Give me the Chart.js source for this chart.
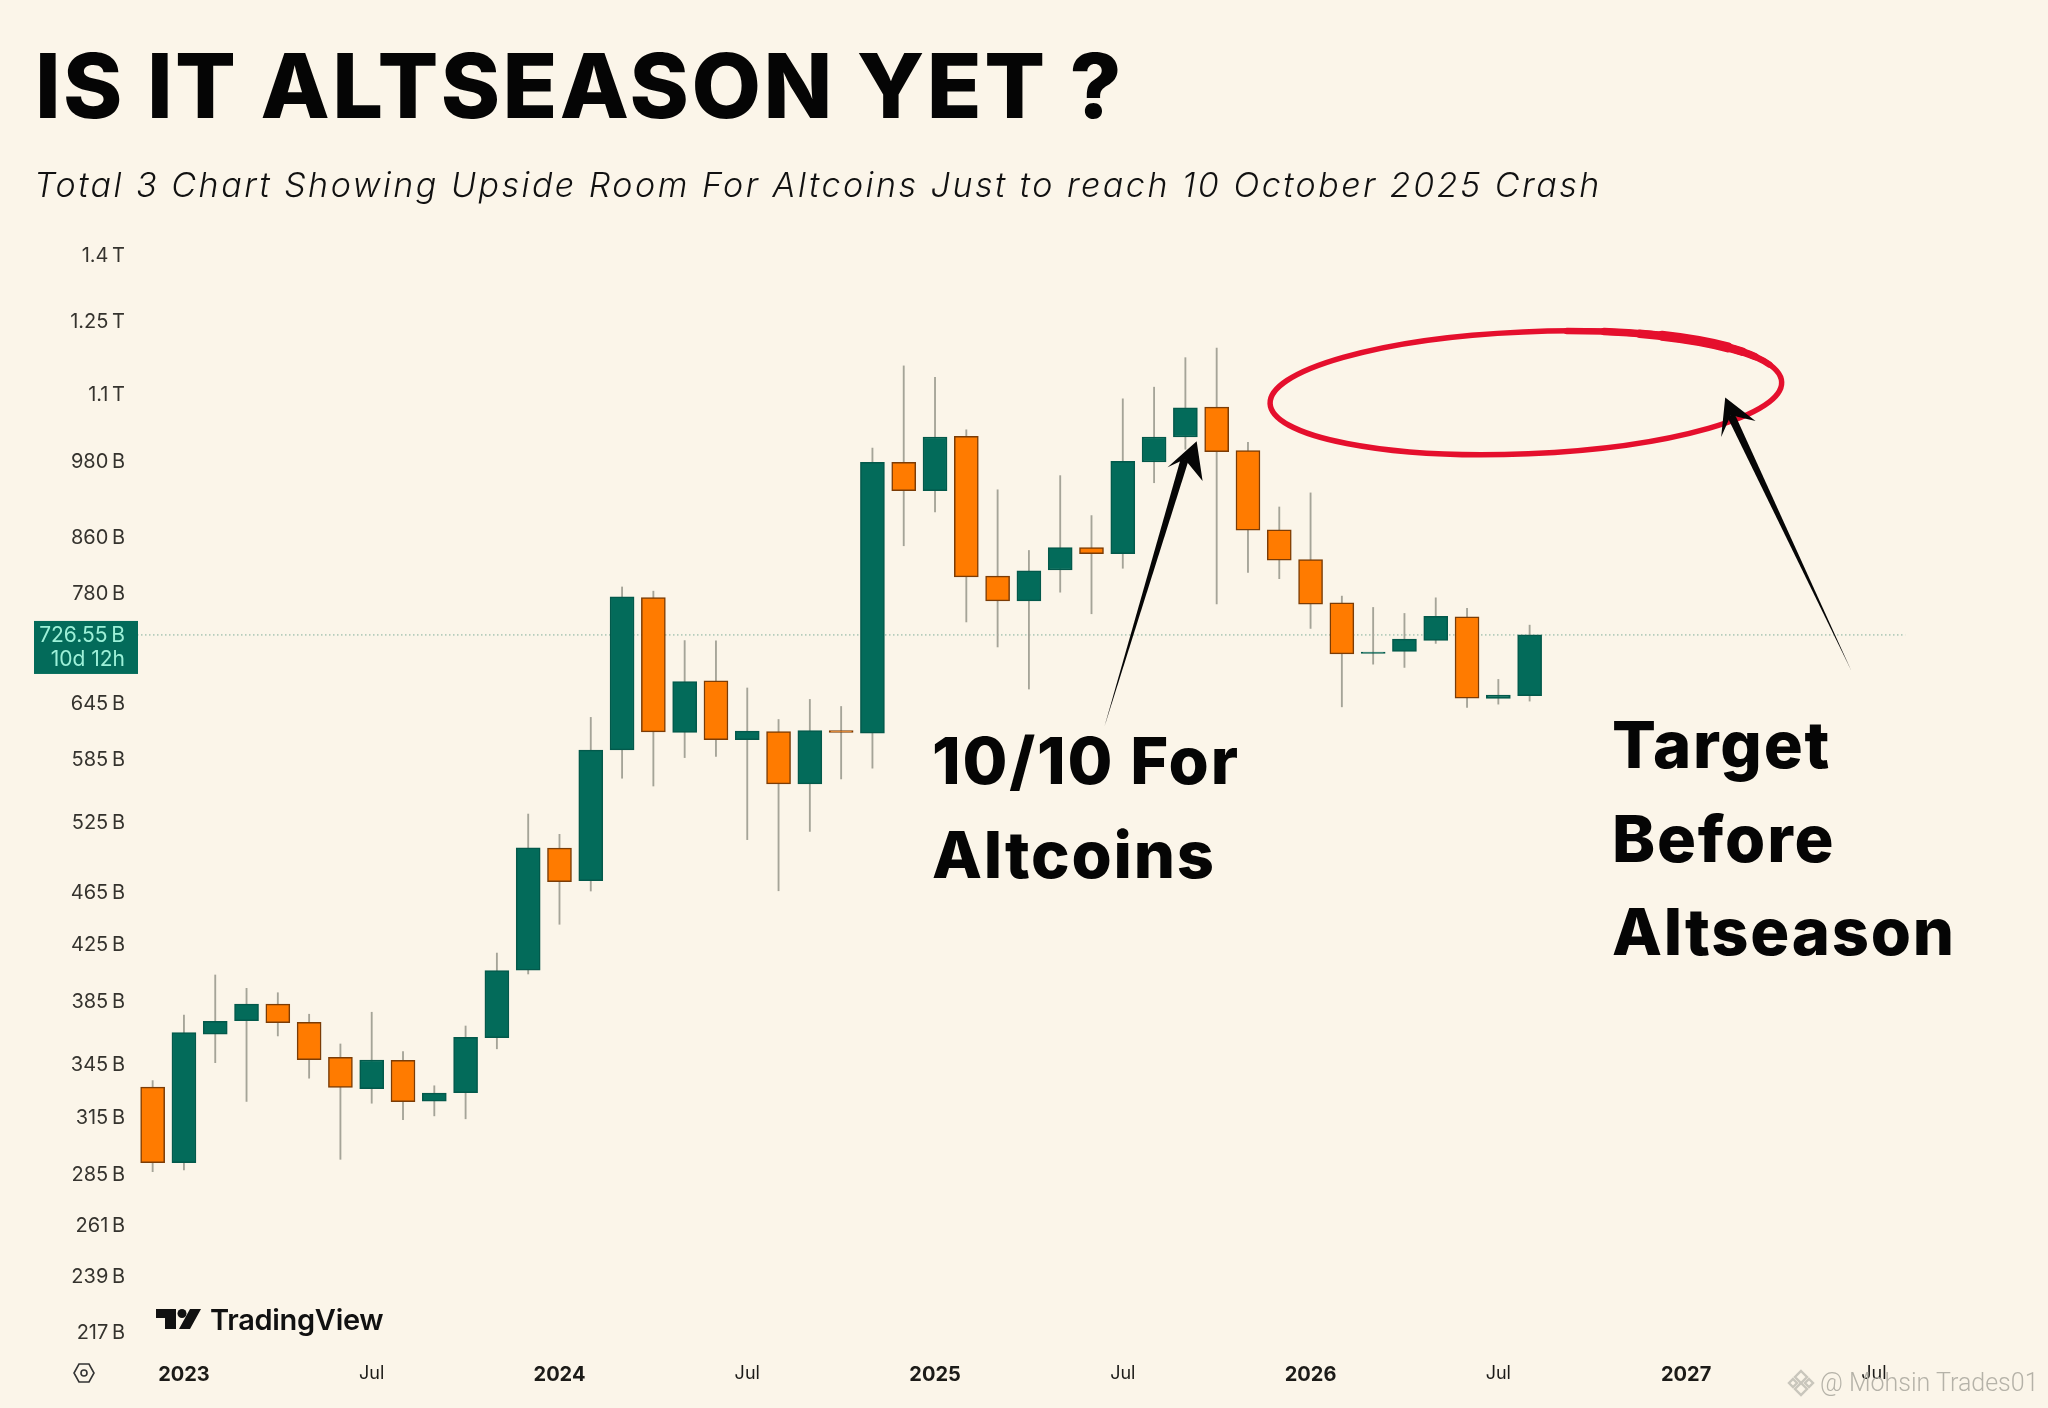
<!DOCTYPE html>
<html>
<head>
<meta charset="utf-8">
<title>Is it altseason yet</title>
<script src="https://cdn.jsdelivr.net/npm/chart.js@4/dist/chart.umd.min.js"></script>
<style>
  html, body { margin: 0; background: #fbf5e9; }
  #page { position: relative; width: 2048px; height: 1408px; overflow: hidden; background: #fbf5e9; }
  canvas { position: absolute; left: 0; top: 0; }
  .txt { position: absolute; white-space: nowrap; color: #050505; font-family: Inter, sans-serif; line-height: 1; margin: 0; }
  #title { left: 35px; top: 41px; font-size: 90px; font-weight: 800; letter-spacing: 2.4px; }
  #subtitle { left: 34px; top: 168px; font-size: 34px; font-weight: 300; font-style: italic; color: #111; letter-spacing: 2.5px; }
  .note { font-size: 65px; font-weight: 800; letter-spacing: 1.8px; }
  #tvName { left: 210px; top: 1305px; font-size: 29px; font-weight: 600; color: #111; letter-spacing: -0.3px; }
  #mark { left: 1820px; top: 1370px; font-size: 25px; font-family: Roboto, sans-serif; font-weight: 300; color: #b5b2a8; }
  svg { position: absolute; }
</style>
</head>
<body>
<div id="page">
  <canvas id="altChart" width="2048" height="1408"></canvas>
  <h1 class="txt" id="title">IS IT ALTSEASON YET ?</h1>
  <p class="txt" id="subtitle">Total 3 Chart Showing Upside Room For Altcoins Just to reach 10 October 2025 Crash</p>
  <div class="txt note" style="left:932px;top:728px">10/10 For</div>
  <div class="txt note" style="left:932px;top:822px">Altcoins</div>
  <div class="txt note" style="left:1612px;top:712px">Target</div>
  <div class="txt note" style="left:1612px;top:806px">Before</div>
  <div class="txt note" style="left:1612px;top:899px">Altseason</div>
  <div class="txt" id="tvName">TradingView</div>
  <svg style="left:156px;top:1308px" width="46" height="22" viewBox="0 0 46 22">
    <path d="M0 1H20V21H9V10H0Z M34 1H45L34 21H23Z" fill="#111"/><circle cx="26" cy="5.5" r="4.5" fill="#111"/>
  </svg>
  <svg style="left:73px;top:1362px" width="22" height="22" viewBox="0 0 22 22">
    <path d="M6 2H16L21 11L16 20H6L1 11Z" fill="none" stroke="#333" stroke-width="1.6"/><circle cx="11" cy="11" r="3" fill="none" stroke="#333" stroke-width="1.6"/>
  </svg>
  <svg style="left:1787px;top:1369px" width="28" height="28" viewBox="0 0 28 28">
    <g fill="none" stroke="#c9c6bc" stroke-width="2.4">
      <path d="M14 2L20 8L14 14L8 8Z"/><path d="M14 14L20 20L14 26L8 20Z"/><path d="M6 10L10 14L6 18L2 14Z"/><path d="M22 10L26 14L22 18L18 14Z"/>
    </g>
  </svg>
  <div class="txt" id="mark">@ Mohsin Trades01</div>
</div>

<script>
const months = [
  'Dec 2022',
  'Jan 2023', 'Feb 2023', 'Mar 2023', 'Apr 2023', 'May 2023', 'Jun 2023', 'Jul 2023', 'Aug 2023', 'Sep 2023', 'Oct 2023', 'Nov 2023', 'Dec 2023',
  'Jan 2024', 'Feb 2024', 'Mar 2024', 'Apr 2024', 'May 2024', 'Jun 2024', 'Jul 2024', 'Aug 2024', 'Sep 2024', 'Oct 2024', 'Nov 2024', 'Dec 2024',
  'Jan 2025', 'Feb 2025', 'Mar 2025', 'Apr 2025', 'May 2025', 'Jun 2025', 'Jul 2025', 'Aug 2025', 'Sep 2025', 'Oct 2025', 'Nov 2025', 'Dec 2025',
  'Jan 2026', 'Feb 2026', 'Mar 2026', 'Apr 2026', 'May 2026', 'Jun 2026', 'Jul 2026', 'Aug 2026', 'Sep 2026', 'Oct 2026', 'Nov 2026', 'Dec 2026',
  'Jan 2027', 'Feb 2027', 'Mar 2027', 'Apr 2027', 'May 2027', 'Jun 2027', 'Jul 2027', 'Aug 2027', 'Sep 2027', 'Oct 2027', 'Nov 2027', 'Dec 2027',
]

// monthly candles, in billions
const openPrices = [
  332.0, 291.3, 363.9, 372.5, 383.4, 371.5, 349.6, 331.2, 347.8, 324.1, 328.8, 361.7, 406.6, 502.3, 474.7,
  595.5, 775.0, 613.7, 671.1, 606.0, 614.7, 561.4, 615.7, 612.8, 979.8, 932.9, 1025.0, 804.4, 770.8, 813.0,
  845.2, 836.4, 980.3, 1023.6, 1077.9, 999.8, 871.5, 828.0, 768.1, 703.7, 706.1, 719.7, 749.8, 650.9, 653.9,
]
const closePrices = [
  291.3, 364.9, 372.1, 383.4, 371.2, 348.2, 331.8, 348.0, 323.7, 328.6, 362.0, 406.3, 502.6, 473.9, 595.2,
  776.0, 614.2, 670.2, 606.0, 615.1, 561.4, 615.7, 613.7, 979.8, 932.9, 1023.6, 803.4, 770.8, 812.0, 845.2,
  836.4, 981.6, 1023.6, 1076.9, 997.9, 871.2, 827.1, 766.4, 703.2, 705.3, 721.3, 750.3, 651.3, 654.6, 726.55,
]
const highPrices = [
  335.8, 376.2, 403.2, 394.0, 391.0, 376.7, 357.8, 378.0, 353.1, 332.8, 369.1, 418.8, 532.8, 514.4, 629.9,
  789.5, 783.8, 719.5, 719.2, 662.8, 627.6, 649.8, 641.9, 1004.1, 1157.8, 1135.2, 1036.5, 934.2, 841.0, 957.4,
  893.4, 1093.6, 1115.9, 1174.4, 1194.0, 1014.4, 906.8, 929.2, 777.1, 762.0, 754.1, 774.8, 760.7, 672.7, 739.0,
]
const lowPrices = [
  286.8, 287.7, 346.4, 323.9, 362.8, 337.2, 293.0, 322.9, 313.8, 315.9, 314.3, 354.8, 403.9, 440.2, 466.3,
  566.9, 559.3, 587.5, 588.7, 509.7, 466.5, 517.0, 566.2, 576.8, 847.9, 899.0, 743.1, 711.6, 661.6, 782.4,
  753.7, 815.5, 945.7, 1002.2, 766.5, 809.5, 800.9, 734.8, 641.5, 690.7, 686.8, 716.0, 640.8, 644.5, 647.9,
]
const lastPrice = 726.55

const yTickValues = [1400, 1250, 1100, 980, 860, 780, 645, 585, 525, 465, 425, 385, 345, 315, 285, 261, 239, 217]
const xTickLabels = {
  'Jan 2023': '2023', 'Jul 2023': 'Jul', 'Jan 2024': '2024', 'Jul 2024': 'Jul', 'Jan 2025': '2025',
  'Jul 2025': 'Jul', 'Jan 2026': '2026', 'Jul 2026': 'Jul', 'Jan 2027': '2027', 'Jul 2027': 'Jul',
}

const GREEN = '#036b5a'
const GREEN_EDGE = '#03594b'
const ORANGE = '#ff7b00'
const ORANGE_EDGE = '#7b3c06'
const WICK = '#a5a498'

function formatPrice(v) {
  return v >= 1000 ? (v / 1000) + '\u2009T' : v + '\u2009B'
}

const isUp = openPrices.map((o, i) => closePrices[i] >= o)

// hand drawn marks on top of the chart, placed by month index and price
const ringCentre = { i: 43.88, v: 1105 }
const leftArrow = { tail: [30.41, 619.4], tip: [33.36, 1016.2], barbA: [32.43, 971.5], barbB: [33.55, 948.7], notch: [32.98, 985.0] }
const rightArrow = { tail: [54.28, 682.8], tip: [50.25, 1096.1], barbA: [51.22, 1052.6], barbB: [50.12, 1023.8], notch: [50.43, 1063.1] }

function drawArrow(ctx, x, y, arrow) {
  const pt = (p) => [x.getPixelForValue(p[0]), y.getPixelForValue(p[1])]
  const tail = pt(arrow.tail)
  const tip = pt(arrow.tip)
  const barbA = pt(arrow.barbA)
  const barbB = pt(arrow.barbB)
  const notch = pt(arrow.notch)
  const dx = notch[0] - tail[0]
  const dy = notch[1] - tail[1]
  const len = Math.hypot(dx, dy)
  const nx = (-dy / len) * 4
  const ny = (dx / len) * 4
  ctx.fillStyle = '#060606'
  ctx.beginPath()
  ctx.moveTo(tail[0], tail[1])
  ctx.lineTo(notch[0] + nx, notch[1] + ny)
  ctx.lineTo(notch[0] - nx, notch[1] - ny)
  ctx.closePath()
  ctx.fill()
  ctx.beginPath()
  ctx.moveTo(tip[0], tip[1])
  ctx.lineTo(barbA[0], barbA[1])
  ctx.lineTo(notch[0], notch[1])
  ctx.lineTo(barbB[0], barbB[1])
  ctx.closePath()
  ctx.fill()
}

const priceLinePlugin = {
  id: 'priceLine',
  beforeDatasetsDraw(chart) {
    const { ctx, scales } = chart
    const py = scales.y.getPixelForValue(lastPrice)
    ctx.save()
    ctx.strokeStyle = '#7fae99'
    ctx.lineWidth = 1
    ctx.setLineDash([1.5, 2.5])
    ctx.beginPath()
    ctx.moveTo(chart.chartArea.left, py)
    ctx.lineTo(scales.x.getPixelForValue(56), py)
    ctx.stroke()
    ctx.restore()
  },
  afterDraw(chart) {
    const { ctx, scales } = chart
    const py = scales.y.getPixelForValue(lastPrice)
    ctx.save()
    ctx.fillStyle = GREEN
    ctx.fillRect(34, py - 14, 104, 53)
    ctx.fillStyle = '#9df0d8'
    ctx.font = '21px Inter, sans-serif'
    ctx.textAlign = 'right'
    ctx.textBaseline = 'middle'
    ctx.fillText('726.55\u2009B', 125, py + 1)
    ctx.fillText('10d 12h', 125, py + 25)
    ctx.restore()
  },
}

const sketchPlugin = {
  id: 'sketch',
  afterDatasetsDraw(chart) {
    const { ctx, scales } = chart
    const cx = scales.x.getPixelForValue(ringCentre.i)
    const cy = scales.y.getPixelForValue(ringCentre.v)
    ctx.save()
    ctx.strokeStyle = '#e50f2d'
    ctx.lineCap = 'round'
    ctx.lineWidth = 5.5
    ctx.beginPath()
    ctx.ellipse(cx, cy, 256, 61, -0.042, 0, Math.PI * 2)
    ctx.stroke()
    // the pen gets heavier along the upper right
    const heavy = [[6.5, -1.4, -0.3], [7.5, -1.25, -0.45], [8.5, -1.1, -0.55], [10, -1.0, -0.65]]
    heavy.forEach(([w, from, to]) => {
      ctx.lineWidth = w
      ctx.beginPath()
      ctx.ellipse(cx, cy, 256, 61, -0.042, from, to)
      ctx.stroke()
    })
    ctx.restore()
    drawArrow(ctx, scales.x, scales.y, leftArrow)
    drawArrow(ctx, scales.x, scales.y, rightArrow)
  },
}

new Chart(document.getElementById('altChart').getContext('2d'), {
  type: 'bar',
  data: {
    labels: months,
    datasets: [
      {
        label: 'Wick',
        data: lowPrices.map((l, i) => [l, highPrices[i]]),
        backgroundColor: WICK,
        barThickness: 1.2,
        grouped: false,
        order: 2,
      },
      {
        label: 'Body',
        data: openPrices.map((o, i) => [Math.min(o, closePrices[i]), Math.max(o, closePrices[i])]),
        backgroundColor: isUp.map((up) => (up ? GREEN : ORANGE)),
        borderColor: isUp.map((up) => (up ? GREEN_EDGE : ORANGE_EDGE)),
        borderWidth: 1.5,
        borderSkipped: false,
        barThickness: 24,
        grouped: false,
        order: 1,
      },
    ],
  },
  options: {
    responsive: false,
    animation: false,
    devicePixelRatio: 1,
    layout: { padding: { left: 0, right: 2, top: 230, bottom: 0 } },
    plugins: { legend: { display: false }, tooltip: { enabled: false }, title: { display: false } },
    scales: {
      x: {
        type: 'category',
        grid: { display: false, drawTicks: false },
        border: { display: false },
        afterFit(axis) { axis.height = 58 },
        ticks: {
          autoSkip: false,
          maxRotation: 0,
          padding: 13,
          color: '#1c1b18',
          font: (c) => (c.tick && /^\d/.test(c.tick.label) ? { family: 'Inter', size: 20, weight: '700' } : { family: 'Inter', size: 18, weight: '400' }),
          callback(value, index) { return xTickLabels[months[index]] || '' },
        },
      },
      y: {
        type: 'logarithmic',
        min: 210.6,
        max: 1465,
        grid: { display: false, drawTicks: false },
        border: { display: false },
        afterFit(axis) { axis.width = 137 },
        afterBuildTicks(axis) { axis.ticks = yTickValues.map((v) => ({ value: v })) },
        ticks: {
          autoSkip: false,
          padding: 12,
          color: '#35332e',
          font: { family: 'Inter', size: 20, weight: '400' },
          callback: (v) => formatPrice(v),
        },
      },
    },
  },
  plugins: [priceLinePlugin, sketchPlugin],
})
</script>
</body>
</html>
